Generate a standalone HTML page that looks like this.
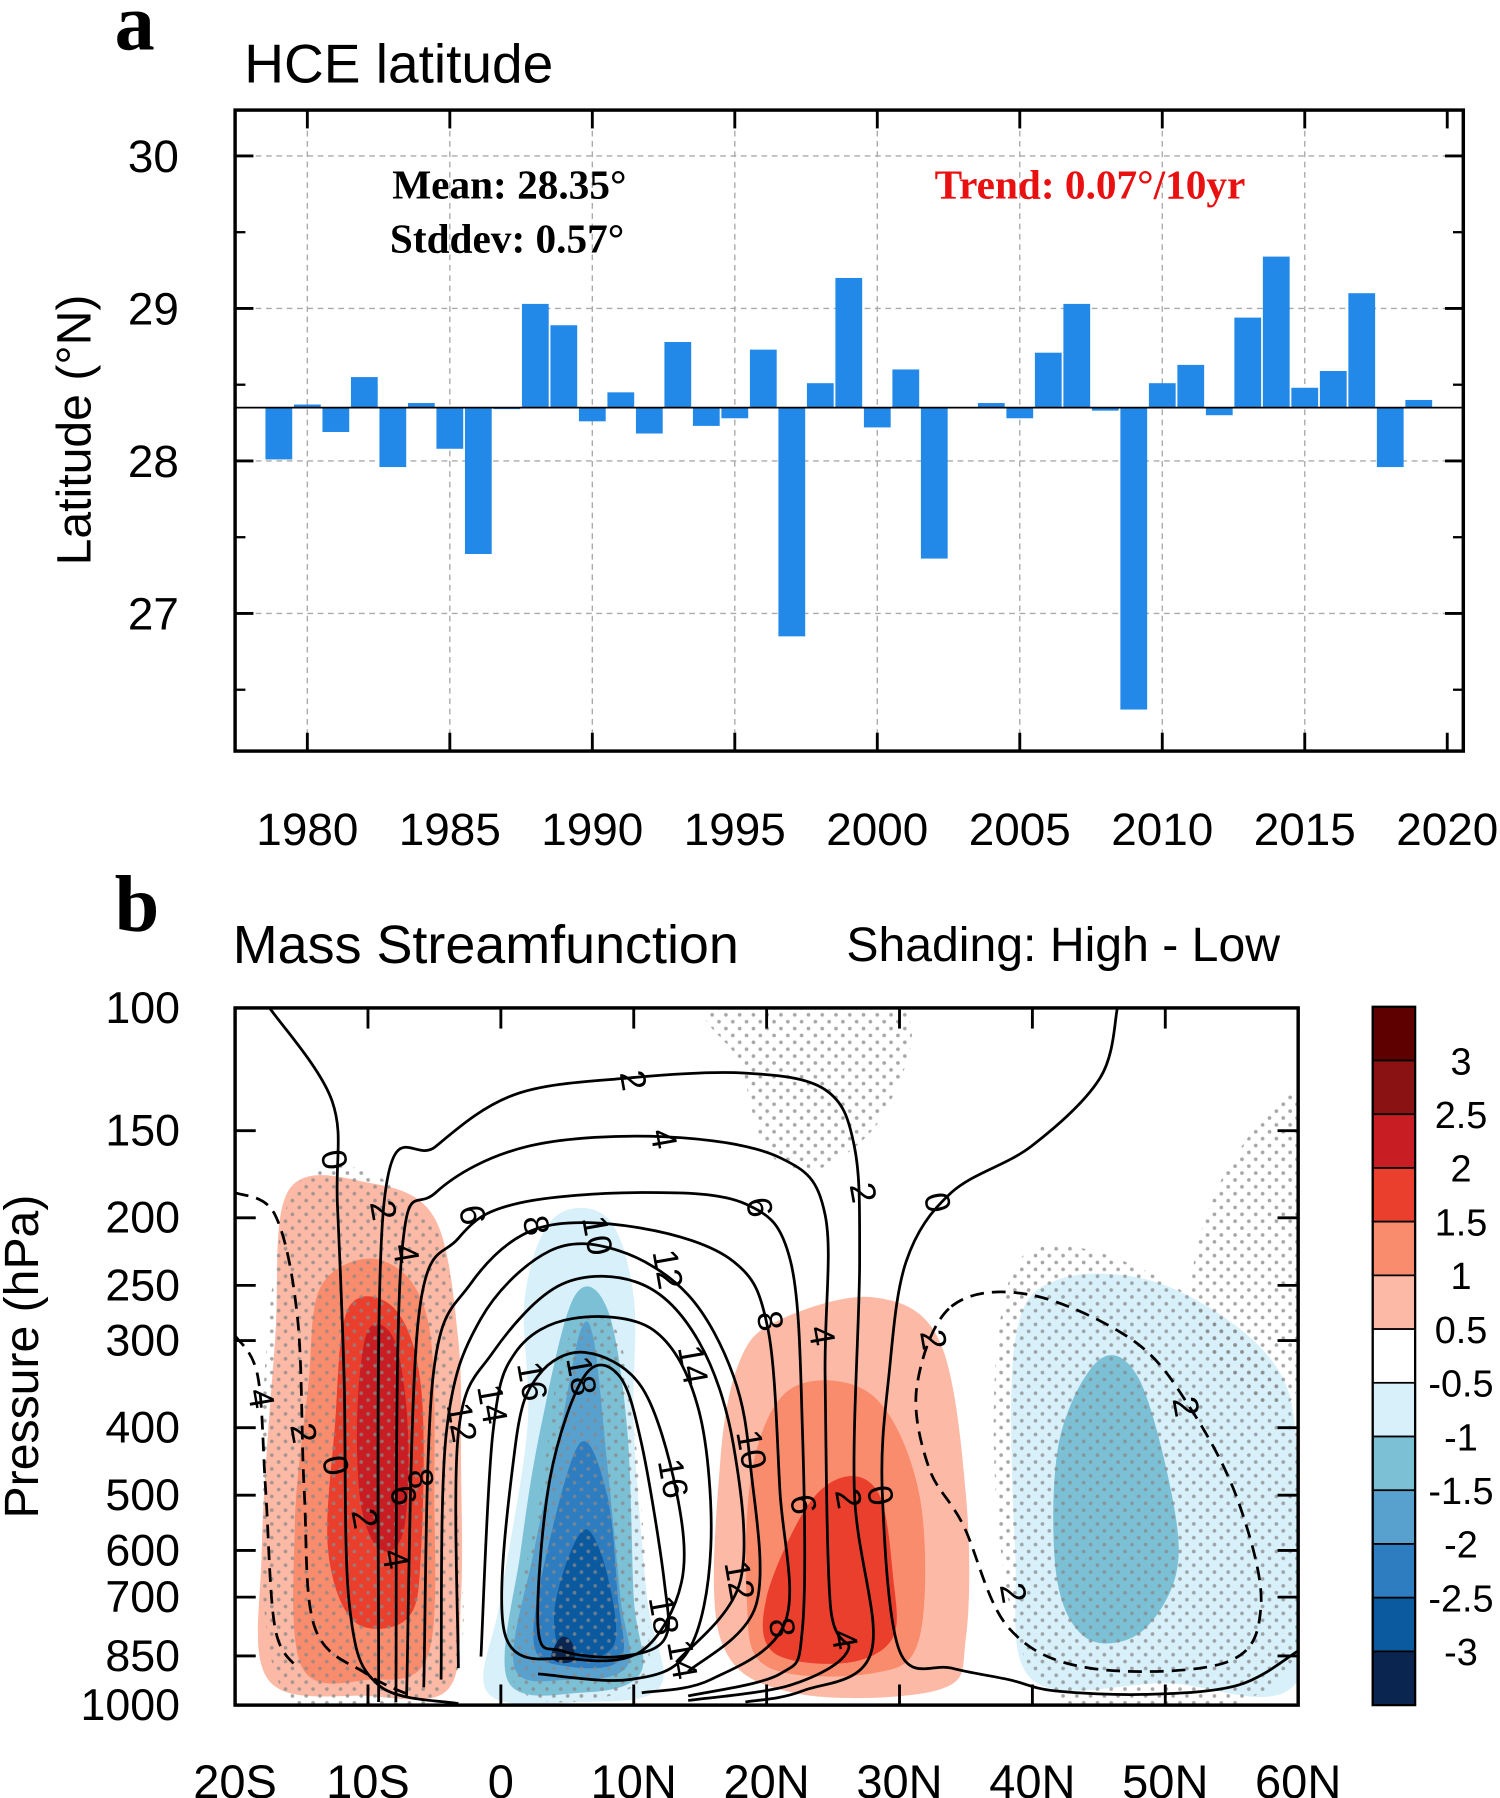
<!DOCTYPE html>
<html><head><meta charset="utf-8">
<style>
html,body{margin:0;padding:0;background:#fff;}
svg{display:block;}
text{font-family:"Liberation Sans",sans-serif;}
.tm{font-family:"Liberation Serif",serif;font-weight:bold;}
</style></head>
<body>
<svg id="fig" width="1500" height="1798" viewBox="0 0 1308 1568" preserveAspectRatio="none" xmlns="http://www.w3.org/2000/svg">
<defs>
<pattern id="dots" width="12" height="12" patternUnits="userSpaceOnUse">
<circle cx="3" cy="3" r="1.6" fill="#888"/><circle cx="9" cy="9" r="1.6" fill="#888"/>
</pattern>
</defs>
<g id="panelA"></g>
<g id="panelB"></g>
</svg>
<script>
// ---------- Panel a data ----------
const years = [1979,1980,1981,1982,1983,1984,1985,1986,1987,1988,1989,1990,1991,1992,1993,1994,1995,1996,1997,1998,1999,2000,2001,2002,2003,2004,2005,2006,2007,2008,2009,2010,2011,2012,2013,2014,2015,2016,2017,2018,2019];
const hceLat = [28.01,28.37,28.19,28.55,27.96,28.38,28.08,27.39,28.34,29.03,28.89,28.26,28.45,28.18,28.78,28.23,28.28,28.73,26.85,28.51,29.20,28.22,28.60,27.36,28.35,28.38,28.28,28.71,29.03,28.33,26.37,28.51,28.63,28.30,28.94,29.34,28.48,28.59,29.10,27.96,28.40];
const meanLat = 28.35;
const yTicksA = [27,28,29,30];
const yMinorA = [26.5,27.5,28.5,29.5];
const xTicksA = [1980,1985,1990,1995,2000,2005,2010,2015,2020];

// ---------- Panel b data ----------
const pTicks = [100,150,200,250,300,400,500,600,700,850,1000];
const latTicks = [-20,-10,0,10,20,30,40,50,60];
const latLabels = ["20S","10S","0","10N","20N","30N","40N","50N","60N"];
const cbarLabels = ["3","2.5","2","1.5","1","0.5","-0.5","-1","-1.5","-2","-2.5","-3"];
const cbarColors = ["#5e0000","#8a1212","#c81d22","#eb3f2e","#f98c6c","#fcbaa6","#ffffff","#d7f0fa","#7cc0d6","#58a1cf","#2e7dc0","#0b5aa0","#0a2550"];

const shadeLevels = [5,4,3,2, 7,8,9,10,11,12, 5,4,3, 7,8];
const shadeShapes = [
 [[-16,183],[-10,178],[-5,200],[-3.2,300],[-3,450],[-3,700],[-4,950],[-10,970],[-17.5,920],[-18,600],[-17,300]],
 [[-13.5,250],[-9,230],[-5.5,280],[-5,500],[-5.5,850],[-10,920],[-15,880],[-15.5,550],[-14.5,350]],
 [[-11.5,270],[-8,270],[-6,350],[-6,600],[-7,750],[-11,760],[-13,600],[-12.5,400]],
 [[-10,290],[-8,300],[-7,400],[-7.3,560],[-9,600],[-10.5,520],[-10.8,380]],
 [[4,200],[8,200],[10,260],[10,400],[11,700],[12,940],[6,990],[-1,960],[0,700],[2,400],[1.8,260]],
 [[5.5,260],[8,270],[9.5,400],[10,700],[10.5,900],[6,960],[0.5,920],[1.5,600],[3,400]],
 [[6,290],[7,300],[8,450],[9,700],[9.5,880],[5,920],[1,880],[2.5,600],[4.5,400]],
 [[6,420],[8,500],[8.8,700],[9,860],[5,880],[2.5,820],[3.5,600]],
 [[6.5,560],[8,650],[8.5,820],[5,860],[4,750],[5,620]],
 [[4.5,800],[5.3,810],[5.5,860],[4.5,870],[3.8,850]],
 [[21,280],[28,260],[33,300],[35,500],[35,800],[33,950],[22,960],[16.5,800],[16.5,450],[18,320]],
 [[22,350],[28,360],[31.5,500],[31.5,800],[28,900],[20,880],[18.5,700],[19,450]],
 [[26,470],[28.5,500],[29.5,650],[29.5,800],[26,870],[20.5,840],[20,700],[23,520]],
 [[42,245],[50,250],[58,320],[60,450],[60,920],[50,930],[40,920],[38.7,600],[38.7,300]],
 [[45,320],[48,340],[50.5,500],[50.8,650],[48,790],[44,800],[41.8,650],[42,420]]
];
const stippleShapes = [
 [[16,100],[30,100],[29,140],[24,170],[20,160],[18,120]],
 [[58,140],[60,140],[60,350],[54,330],[52,250],[54,180]],
 [[-16,190],[-5,205],[-3.5,450],[-4,950],[-17,900]],
 [[5,300],[9,300],[11,700],[10,940],[1,930],[3,500]],
 [[39,230],[58,330],[59,900],[40,900]]
];
const contourValues = [0,2,4,6,8,10,12,14,16,18,0,-2,-4,-2];
const contourClosed = [false,false,false,false,false,false,false,false,true,true,false,false,false,true];
const contourLines = [
 [[-17.4,100],[-12.7,136],[-12.3,191],[-11.8,337],[-11.4,719],[-9.2,936],[-3.2,995]],
 [[-9.2,990],[-8.8,191],[-4.9,158],[1.1,133],[9.7,126],[18.4,124],[24.4,131],[26.6,158],[27,231],[26.6,493],[27.9,836],[22.7,954],[18.4,990]],
 [[-7.9,990],[-7.5,231],[-4.9,184],[2,158],[12.3,153],[21,164],[24.4,198],[24.4,337],[24.8,719],[26.1,836],[21.8,936],[14.1,985]],
 [[-7.1,975],[-6.2,279],[-3.2,214],[1.1,191],[10.6,184],[18.4,191],[21.8,231],[22.7,407],[22.7,774],[21,902],[14.1,970]],
 [[-5.8,943],[-5.1,337],[-2.3,249],[2.8,207],[10.6,207],[17.5,231],[20.1,289],[21,493],[21.4,760],[15.8,919],[10.6,960]],
 [[-4.5,919],[-4.1,407],[-1.5,279],[3.7,223],[8.9,223],[14.1,258],[17.5,337],[18.8,456],[19.2,719],[14.1,895]],
 [[-3.2,885],[-3.2,407],[-0.6,312],[4.6,249],[10.6,249],[14.9,301],[17.5,423],[18,666],[13.2,868]],
 [[-1.5,852],[-0.6,407],[1.1,312],[5.4,279],[11.5,290],[14.9,378],[15.8,595],[14.1,836],[9.7,919],[2.8,902]],
 [[0.3,790],[1.1,423],[2.8,337],[6.3,312],[10.6,350],[13.2,493],[13.6,666],[10.6,836],[5.4,858]],
 [[2.8,774],[3.7,473],[6.3,337],[8.9,337],[10.6,423],[12.3,666],[12.3,805],[8.9,852],[4.6,836]],
 [[46.4,100],[45.1,126],[39.9,158],[33.9,184],[30.5,231],[29.2,337],[28.7,493],[30,836],[33.9,885],[38.2,919],[41.7,954],[48.6,965],[55.5,936],[60,836]],
 [[-20,184],[-17,198],[-15.3,279],[-14.8,493],[-14,774],[-10.1,902],[-6.6,972]],
 [[-20,295],[-18.3,337],[-17.7,493],[-17,774],[-15.3,885]],
 [[33.9,268],[39.9,258],[47.7,301],[52,378],[55.5,511],[57.2,719],[54.6,868],[44.3,885],[38.2,774],[34.8,552],[32.2,456],[31.3,350]]
];
const contourLabelText = ["0","2","4","6","8","10","12","14","16","18","14","2","4","6","8","10","12","4","6","8","4","2","0","2","0","2","2","2","2","4","0","16","18","14","12","8","6","4","2"];
const contourLabelPos = [[-12.5,165],[-8.8,195],[-7.1,225],[-2.1,198],[2.7,205],[7.3,212],[12.6,237],[14.5,325],[13,473],[12.3,743],[13.7,860],[10,127],[12.3,154],[19.5,193],[20.3,281],[18.9,430],[18,662],[24.2,295],[22.8,515],[21.2,774],[25.9,805],[26.2,505],[28.6,500],[27.3,184],[32.9,190],[32.6,299],[51.6,373],[38.6,690],[-14.8,407],[-18,363],[-12.4,453],[2.4,343],[6.1,337],[-0.6,370],[-2.9,393],[-6,473],[-7.3,500],[-7.9,617],[-10.2,540]];

const NS = "http://www.w3.org/2000/svg";
function mk(parent, tag, attrs, txt){const e=document.createElementNS(NS,tag);for(const k in attrs)e.setAttribute(k,attrs[k]);if(txt!==undefined)e.textContent=txt;parent.appendChild(e);return e;}

// ---------- Panel a ----------
const A = document.getElementById('panelA');
const ax = {l:205,r:1276,t:96,b:655};
const xA = y => 268 + (y-1980)*(1262-268)/40;
const yA = v => 402 - (v-28)*133;

let t = mk(A,'text',{x:100,y:43,'font-size':70,class:'tm'},'a');


t = mk(A,'text',{x:213,y:72,'font-size':48},'HCE latitude');



xTicksA.forEach(yr=>{ if(yr<2020){const g=mk(A,'line',{x1:xA(yr),x2:xA(yr),y1:ax.t,y2:ax.b,stroke:'#aaa','stroke-width':1.2,'stroke-dasharray':'5,4'});
 
 }});
yTicksA.forEach(v=>{const g=mk(A,'line',{x1:ax.l,x2:ax.r,y1:yA(v),y2:yA(v),stroke:'#aaa','stroke-width':1.2,'stroke-dasharray':'5,4'});
 
 });

const bw = (1262-268)/40 - 1.5;
years.forEach((yr,i)=>{
  const v=hceLat[i]; const y1=yA(Math.max(v,meanLat)), y2=yA(Math.min(v,meanLat));
  const r=mk(A,'rect',{x:xA(yr)-bw/2,y:y1,width:bw,height:Math.max(y2-y1,0.8),fill:'#2389e8'});
  
  
});
t=mk(A,'line',{x1:ax.l,x2:ax.r,y1:yA(meanLat),y2:yA(meanLat),stroke:'#000','stroke-width':1.5});



t=mk(A,'rect',{x:ax.l,y:ax.t,width:ax.r-ax.l,height:ax.b-ax.t,fill:'none',stroke:'#000','stroke-width':3});



yTicksA.forEach(v=>{
  mk(A,'line',{x1:ax.l,x2:ax.l+16,y1:yA(v),y2:yA(v),stroke:'#000','stroke-width':2.5});
  mk(A,'line',{x1:ax.r,x2:ax.r-16,y1:yA(v),y2:yA(v),stroke:'#000','stroke-width':2.5});
  const l=mk(A,'text',{x:156,y:yA(v)+14,'font-size':40,'text-anchor':'end'},String(v));
  
  
});
yMinorA.forEach(v=>{
  mk(A,'line',{x1:ax.l,x2:ax.l+9,y1:yA(v),y2:yA(v),stroke:'#000','stroke-width':2});
  mk(A,'line',{x1:ax.r,x2:ax.r-9,y1:yA(v),y2:yA(v),stroke:'#000','stroke-width':2});
});
xTicksA.forEach(yr=>{
  mk(A,'line',{x1:xA(yr),x2:xA(yr),y1:ax.b,y2:ax.b-16,stroke:'#000','stroke-width':2.5});
  mk(A,'line',{x1:xA(yr),x2:xA(yr),y1:ax.t,y2:ax.t+16,stroke:'#000','stroke-width':2.5});
  const l=mk(A,'text',{x:xA(yr),y:737,'font-size':40,'text-anchor':'middle'},String(yr));
  
  
});
t=mk(A,'text',{x:0,y:0,'font-size':42,'text-anchor':'middle',transform:'translate(79,375) rotate(-90)'},'Latitude (°N)');


t=mk(A,'text',{x:342,y:173,'font-size':36,class:'tm'},'Mean: 28.35°');


t=mk(A,'text',{x:340,y:220,'font-size':36,class:'tm'},'Stddev: 0.57°');


t=mk(A,'text',{x:815,y:173,'font-size':36,class:'tm',fill:'#e81010'},'Trend: 0.07°/10yr');



// ---------- Panel b ----------
const B = document.getElementById('panelB');
const bx = {l:205,r:1132,t:879,b:1487};
const xB = lat => bx.l + (lat+20)*(bx.r-bx.l)/80;
const yB = p => bx.t + (bx.b-bx.t)*Math.log10(p/100);

function smooth(pts, closed){
  const P=pts.map(q=>[xB(q[0]),yB(q[1])]); const n=P.length;
  let d='M'+P[0][0].toFixed(1)+','+P[0][1].toFixed(1);
  const segs = closed?n:n-1;
  for(let i=0;i<segs;i++){
    const p0=P[closed?(i-1+n)%n:Math.max(i-1,0)], p1=P[i], p2=P[(i+1)%n], p3=P[closed?(i+2)%n:Math.min(i+2,n-1)];
    const c1=[p1[0]+(p2[0]-p0[0])/6,p1[1]+(p2[1]-p0[1])/6], c2=[p2[0]-(p3[0]-p1[0])/6,p2[1]-(p3[1]-p1[1])/6];
    d+=' C'+c1[0].toFixed(1)+','+c1[1].toFixed(1)+' '+c2[0].toFixed(1)+','+c2[1].toFixed(1)+' '+p2[0].toFixed(1)+','+p2[1].toFixed(1);
  }
  return d+(closed?' Z':'');
}

t=mk(B,'text',{x:100,y:812,'font-size':70,class:'tm'},'b');


t=mk(B,'text',{x:203,y:840,'font-size':47},'Mass Streamfunction');


t=mk(B,'text',{x:738,y:838,'font-size':42},'Shading: High - Low');



const clip = mk(B,'clipPath',{id:'clipB'});
mk(clip,'rect',{x:bx.l,y:bx.t,width:bx.r-bx.l,height:bx.b-bx.t});
const G = mk(B,'g',{'clip-path':'url(#clipB)'});

shadeShapes.forEach((s,i)=>{
  const e=mk(G,'path',{d:smooth(s,true),fill:cbarColors[shadeLevels[i]],stroke:'none'});
  
  
});
stippleShapes.forEach(s=>{
  const e=mk(G,'path',{d:smooth(s,true),fill:'url(#dots)',opacity:0.75});
  
  
});
contourLines.forEach((c,i)=>{
  const attrs={d:smooth(c,contourClosed[i]),fill:'none',stroke:'#000','stroke-width':2.4};
  if(contourValues[i]<0) attrs['stroke-dasharray']='12,7';
  const e=mk(G,'path',attrs);
  
  
});
contourLabelPos.forEach((q,i)=>{
  const e=mk(G,'text',{x:xB(q[0]),y:yB(q[1])+11,'font-size':31,'text-anchor':'middle',transform:'rotate(80 '+xB(q[0])+' '+yB(q[1])+')'},contourLabelText[i]);
  
  
});

t=mk(B,'rect',{x:bx.l,y:bx.t,width:bx.r-bx.l,height:bx.b-bx.t,fill:'none',stroke:'#000','stroke-width':3});



pTicks.forEach(p=>{
  mk(B,'line',{x1:bx.l,x2:bx.l+18,y1:yB(p),y2:yB(p),stroke:'#000','stroke-width':2.5});
  mk(B,'line',{x1:bx.r,x2:bx.r-18,y1:yB(p),y2:yB(p),stroke:'#000','stroke-width':2.5});
  const l=mk(B,'text',{x:157,y:yB(p)+13,'font-size':39,'text-anchor':'end'},String(p));
  
  
});
latTicks.forEach((lt,i)=>{
  mk(B,'line',{x1:xB(lt),x2:xB(lt),y1:bx.b,y2:bx.b-18,stroke:'#000','stroke-width':2.5});
  mk(B,'line',{x1:xB(lt),x2:xB(lt),y1:bx.t,y2:bx.t+18,stroke:'#000','stroke-width':2.5});
  const l=mk(B,'text',{x:xB(lt),y:1568,'font-size':41,'text-anchor':'middle'},latLabels[i]);
  
  
});
t=mk(B,'text',{x:0,y:0,'font-size':42,'text-anchor':'middle',transform:'translate(33,1183) rotate(-90)'},'Pressure (hPa)');



const cb={x:1197,w:37,t:878,b:1487};
const bh=(cb.b-cb.t)/cbarColors.length;
cbarColors.forEach((c,i)=>{
  const r=mk(B,'rect',{x:cb.x,y:cb.t+i*bh,width:cb.w,height:bh,fill:c,stroke:'#000','stroke-width':1.5});
  
  
});
t=mk(B,'rect',{x:cb.x,y:cb.t,width:cb.w,height:cb.b-cb.t,fill:'none',stroke:'#000','stroke-width':2});


cbarLabels.forEach((s,i)=>{
  const l=mk(B,'text',{x:1274,y:cb.t+(i+1)*bh+12,'font-size':33,'text-anchor':'middle'},s);
  
  
});
</script>
</body></html>
